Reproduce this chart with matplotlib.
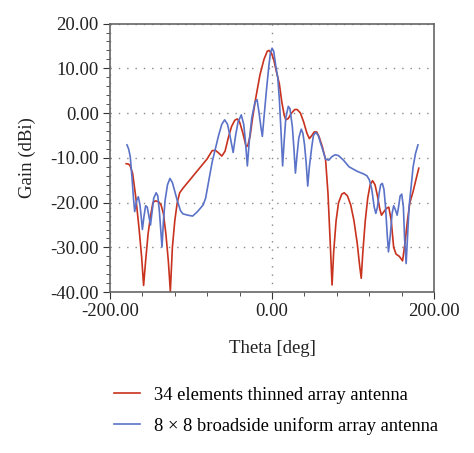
import matplotlib
matplotlib.use("Agg")
import matplotlib.pyplot as plt
from matplotlib.ticker import MultipleLocator, FormatStrFormatter

red_theta = [-180, -177, -175, -172, -168, -164, -161, -158.5, -156, -153, -150, -147, -144, -140, -137, -134, -131, -128, -125.5,
             -123, -120, -117, -114, -110, -100, -90, -80, -74, -70, -66, -62, -58, -54, -50, -46, -43, -40, -36, -32, -30,
             -27, -24, -20, -15, -10, -6, -4, -1, 2, 5, 9, 12, 15, 17, 20, 24, 28, 31, 35, 39, 43, 46, 49, 52, 55, 58, 62,
             66, 69, 72, 74, 76, 79, 82, 86, 89, 93, 97, 101, 105, 108, 110, 112, 115, 118, 121, 124, 127, 130, 133, 135,
             138, 141, 144, 147, 150, 153, 157, 161, 164, 167, 170, 174, 178, 181]
red_gain = [-11.3, -11.4, -11.8, -13.5, -19, -26, -32, -38.5, -33, -27, -23, -20, -19.6, -19.8, -20.5, -22.5, -27, -33, -39.8,
            -30, -24, -20, -17.8, -16.8, -14.6, -12.4, -10.2, -8.4, -8.3, -8.9, -9.6, -8.5, -5.5, -3, -1.6, -1.3, -2, -4.5, -7.5, -7.3,
            -5, -1, 3.5, 8.5, 12, 13.8, 14, 13.5, 12, 9.5, 6.5, 2.5, -0.5, -1.5, -1.2, 0, 0.8, 0.8, 0, -2, -4.5, -5.7, -5, -4.2, -4.2, -5.3, -7.5,
            -10.4, -18, -30, -38.4, -31, -24, -20, -18.1, -17.8, -18.5, -20.5, -24, -29, -34, -36.9, -31, -24, -19, -16, -15.1, -16, -18.5, -21.5, -22.8,
            -22, -21.3, -21, -24, -30, -31.5, -32, -33, -29, -24, -20, -17.5, -14.5, -12.3]

blue_theta = [-179, -177, -175, -173, -171, -169.5, -167, -165, -163, -161, -160, -158, -156, -154, -152, -150, -148, -146, -143,
              -141, -139, -137, -135.8, -134, -132, -129, -126, -123, -120, -117, -113, -110, -104, -98, -92, -85, -82, -78, -74,
              -70, -66, -62, -58.5, -55, -52, -48, -45, -42, -38, -35, -33, -30.5, -28, -25, -21, -18.5, -16, -13.5, -12, -10, -7,
              -4, -2, 0, 2, 5, 7, 9, 11, 13, 15, 17, 20, 22, 25, 27, 28.8, 31, 33, 36, 38, 40, 42, 44, 46, 49, 51, 54, 57, 60, 63,
              66, 70, 74, 78, 82, 88, 95, 105, 113, 117, 120, 123, 126, 128, 130, 132, 134, 136, 138, 140, 142, 143.6, 146, 148,
              150, 152, 154.3, 156, 158, 160, 162, 163.5, 165.4, 167, 169, 171.6, 174, 177, 180]
blue_gain = [-7.1, -8, -9.7, -14, -19, -22, -19.5, -18.7, -20.5, -24, -26, -23, -20.7, -21, -23, -25, -22, -19, -17.8,
             -18.5, -22, -27, -29.9, -24, -19.5, -16, -14.6, -15.5, -17.5, -19.5, -21.8, -22.5, -22.8, -23, -22, -20.5, -19, -15, -11,
             -8, -5, -2.5, -1.5, -2.5, -5, -8.8, -5, -2, -0.4, -2.5, -6, -11.8, -6, -1, 2.5, 3, 0, -3.5, -5.2, -1, 5,
             10.5, 13.5, 14.5, 13.8, 10, 8, 3, -4, -11.8, -6, -1, 1.5, 1, -3, -8, -13.4, -9, -5.5, -3.6, -4.5, -7, -11, -16.3, -12, -7.5, -5, -4.3, -5, -6.8, -8.5,
             -10.3, -10.5, -9.7, -9.3, -9.5, -10.5, -12, -13, -13.6, -14, -14.9, -17, -21, -22.4, -21, -18, -16, -15.7, -17, -21, -27, -31, -27, -22.5,
             -20.7, -21.5, -22.8, -21, -18.5, -18.1, -21, -28, -33.6, -28, -21, -16.4, -12, -9, -7.1]

labels = ["34 elements thinned array antenna", "8 \u00d7 8 broadside uniform array antenna"]

plt.rcParams['font.family'] = ['Liberation Serif', 'DejaVu Serif']

fig = plt.figure(figsize=(4.74, 4.53), dpi=100)
ax = fig.add_axes([0.232, 0.355, 0.684, 0.593])

red_c = '#c8321e'
blue_c = '#5a72c8'
l1, = ax.plot(red_theta, red_gain, color=red_c, lw=1.2)
l2, = ax.plot(blue_theta, blue_gain, color=blue_c, lw=1.2)

ax.set_xlim(-200, 200)
ax.set_ylim(-40, 20)
ax.xaxis.set_major_locator(MultipleLocator(200))
ax.xaxis.set_minor_locator(MultipleLocator(40))
ax.yaxis.set_major_locator(MultipleLocator(10))
ax.yaxis.set_minor_locator(MultipleLocator(2))
ax.xaxis.set_major_formatter(FormatStrFormatter('%.2f'))
ax.yaxis.set_major_formatter(FormatStrFormatter('%.2f'))
ax.tick_params(axis='both', which='both', direction='out', colors='#333333', labelsize=13.5, labelcolor='#222222')
ax.tick_params(which='major', length=5, pad=3)
ax.tick_params(which='minor', length=3)
ax.grid(True, which='major', linestyle=(0, (1, 5)), color='#888888', lw=1.0)
for s in ax.spines.values():
    s.set_color('#666666')
    s.set_linewidth(1.2)

ax.set_xlabel('Theta [deg]', fontsize=13.5, color='#222222', labelpad=14)
ax.set_ylabel('Gain (dBi)', fontsize=13.5, color='#222222', labelpad=10)

fig.legend([l1, l2], labels, loc='upper left', bbox_to_anchor=(0.224, 0.163), frameon=False,
           fontsize=13.3, handlelength=1.45, labelspacing=0.72, handletextpad=0.75, borderaxespad=0)

fig.savefig('out.png', dpi=100)
